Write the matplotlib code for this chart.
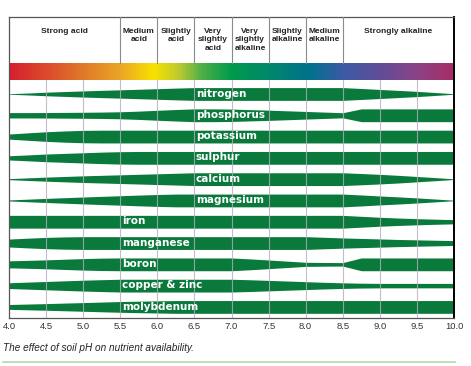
import numpy as np
import matplotlib
matplotlib.use("Agg")
import matplotlib.pyplot as plt
from matplotlib.colors import LinearSegmentedColormap
from matplotlib.lines import Line2D

# pH grid the band widths are read on (0.25 steps)
ph = np.arange(4.0, 10.001, 0.25)

nutrients = ["nitrogen", "phosphorus", "potassium", "sulphur", "calcium", "magnesium",
             "iron", "manganese", "boron", "copper & zinc", "molybdenum"]

# relative availability (1 = full band) at each pH in `ph`
nitrogen   = [0.04, 0.15, 0.28, 0.38, 0.48, 0.57, 0.65, 0.74, 0.83, 0.92, 1, 1, 1, 1, 1, 1, 1,
              1, 1, 0.86, 0.71, 0.56, 0.41, 0.23, 0.04]
phosphorus = [0.42, 0.42, 0.43, 0.45, 0.47, 0.5, 0.55, 0.65, 0.78, 0.9, 1, 1, 0.97, 0.88, 0.8,
              0.7, 0.6, 0.5, 0.4, 1, 1, 1, 1, 1, 1]
potassium  = [0.4, 0.58, 0.75, 0.88, 0.97, 1, 1, 1, 1, 1, 1, 1, 1, 1, 1, 1, 1, 1, 1, 1, 1, 1, 1, 1, 1]
sulphur    = [0.33, 0.46, 0.6, 0.7, 0.8, 0.9, 0.97, 1, 1, 1, 1, 1, 1, 1, 1, 1, 1, 1, 1, 1, 1, 1, 1, 1, 1]
calcium    = [0.08, 0.2, 0.32, 0.42, 0.52, 0.6, 0.68, 0.76, 0.84, 0.92, 1, 1, 1, 1, 1, 1, 1, 1, 1,
              0.88, 0.75, 0.6, 0.42, 0.24, 0.05]
magnesium  = [0.08, 0.2, 0.32, 0.43, 0.54, 0.64, 0.74, 0.84, 0.93, 1, 1, 1, 1, 1, 1, 1, 1, 1, 1,
              0.86, 0.7, 0.56, 0.4, 0.22, 0.04]
iron       = [1, 1, 1, 1, 1, 1, 1, 1, 1, 1, 1, 1, 1, 1, 1, 1, 1, 1, 1, 0.85, 0.7, 0.58, 0.48, 0.4, 0.33]
manganese  = [0.62, 0.76, 0.88, 0.96, 1, 1, 1, 1, 1, 1, 1, 1, 1, 1, 1, 1, 1, 0.9, 0.8, 0.72,
              0.64, 0.56, 0.5, 0.44, 0.38]
boron      = [0.55, 0.62, 0.7, 0.8, 0.9, 0.97, 1, 1, 1, 1, 1, 1, 1, 0.85, 0.68, 0.5, 0.32, 0.29,
              0.27, 1, 1, 1, 1, 1, 1]
copper     = [0.45, 0.55, 0.65, 0.75, 0.85, 0.93, 1, 1, 1, 1, 1, 1, 1, 0.92, 0.82, 0.72, 0.62,
              0.52, 0.44, 0.38, 0.35, 0.35, 0.35, 0.35, 0.35]
molybdenum = [0.38, 0.45, 0.52, 0.6, 0.68, 0.76, 0.84, 0.9, 0.95, 1, 1, 1, 1, 1, 1, 1, 1, 1, 1,
              1, 1, 1, 1, 1, 1]
widths = [nitrogen, phosphorus, potassium, sulphur, calcium, magnesium,
          iron, manganese, boron, copper, molybdenum]
label_ph = [6.52] * 6 + [5.52] * 5

# header classes
class_names = ["Strong acid", "Medium\nacid", "Slightly\nacid", "Very\nslightly\nacid",
               "Very\nslightly\nalkaline", "Slightly\nalkaline", "Medium\nalkaline",
               "Strongly alkaline"]
class_edges = [4.0, 5.5, 6.0, 6.5, 7.0, 7.5, 8.0, 8.5, 10.0]

# colour scale
bar_ph = [4.0, 4.5, 5.0, 5.5, 5.95, 6.3, 6.6, 7.0, 7.5, 8.05, 8.5, 9.0, 9.5, 10.0]
bar_colors = ["#d61f2f", "#dc4b2c", "#e17a2a", "#eba626", "#f8e200", "#b9c932", "#4daf48",
              "#009a4c", "#00886a", "#00728c", "#3b5aa6", "#5f4e98", "#8a4487", "#a82d66"]

green = "#0a7a3c"
half = 0.3
header_top, bar_top, bar_bot, y_bot = -3.615, -1.455, -0.66, 10.52
narrow = ["Liberation Sans Narrow", "Liberation Sans", "DejaVu Sans"]

fig = plt.figure(figsize=(4.71, 3.66), dpi=100)
ax = fig.add_axes([9 / 471, 48 / 366, 445 / 471, 301 / 366])

for i, (name, w) in enumerate(zip(nutrients, widths)):
    w = np.array(w) * half
    ax.fill_between(ph, i - w, i + w, color=green, lw=0, zorder=2)
    ax.text(label_ph[i], i - 0.02, name, color="white", fontsize=7.5, fontweight="bold",
            ha="left", va="center", zorder=4)

# grid in the band area
for x in np.arange(4.5, 10.0, 0.5):
    ax.plot([x, x], [bar_bot, y_bot], color="#b4adbd", lw=0.8, zorder=3, alpha=0.8)

# header dividers and labels
for x in class_edges[1:-1]:
    ax.plot([x, x], [header_top, bar_top], color="#8a8a8a", lw=0.8, zorder=3)
for k, name in enumerate(class_names):
    xc = (class_edges[k] + class_edges[k + 1]) / 2
    ax.text(xc, -3.12, name, ha="center", va="top", fontsize=6, fontweight="bold",
            family=narrow, color="#222222", linespacing=1.3)

cmap = LinearSegmentedColormap.from_list(
    "ph", list(zip([(p - 4) / 6 for p in bar_ph], bar_colors)))
ax.imshow(np.linspace(0, 1, 400)[None, :], cmap=cmap, aspect="auto",
          extent=[4, 10, bar_bot, bar_top], zorder=1)

ax.set_xlim(4, 10)
ax.set_ylim(y_bot, header_top)
ax.set_yticks([])
ticks = np.arange(4.0, 10.01, 0.5)
ax.set_xticks(ticks)
ax.set_xticklabels(["%.1f" % t for t in ticks], fontsize=6.8, color="#333333",
                   family=["Liberation Sans", "DejaVu Sans"])
ax.tick_params(axis="x", length=0, pad=3)
for s in ["left", "top", "bottom"]:
    ax.spines[s].set_color("#555555")
    ax.spines[s].set_linewidth(0.9)
ax.spines["right"].set_color("black")
ax.spines["right"].set_linewidth(1.4)

fig.text(3 / 471, 1 - 348 / 366, "The effect of soil pH on nutrient availability.",
         fontsize=7.2, style="italic", va="center", ha="left", color="#222222",
         family=["Liberation Sans", "DejaVu Sans"])
fig.add_artist(Line2D([3 / 471, 455 / 471], [1 - 361.7 / 366] * 2, color="#b3d9a9", lw=1.2))

fig.savefig("out.png", dpi=100)
